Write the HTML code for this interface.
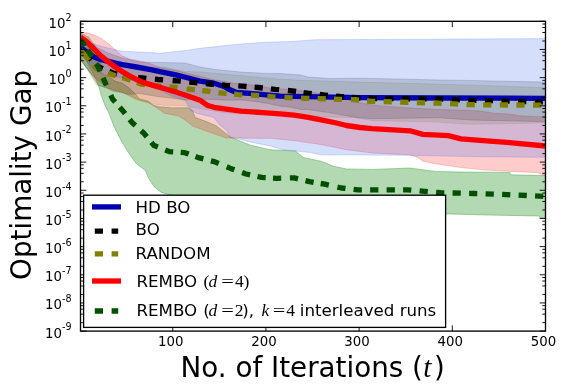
<!DOCTYPE html>
<html><head><meta charset="utf-8"><title>Optimality Gap</title>
<style>html,body{margin:0;padding:0;background:#fff}svg{display:block}</style></head><body>
<svg width="566" height="392" viewBox="0 0 566 392">
<rect width="566" height="392" fill="#fff"/>
<defs><clipPath id="ax"><rect x="80.5" y="21.3" width="465.0" height="309.8"/></clipPath></defs>
<g clip-path="url(#ax)">
<polygon points="80.5,33.0 88.9,37.4 95.4,46.0 99.7,59.0 101.2,73.4 108.3,76.3 115.3,81.2 122.4,83.3 129.5,88.3 136.5,95.3 139.4,98.9 147.8,101.0 153.5,105.2 158.5,106.8 171.2,107.8 188.2,107.8 192.4,110.3 195.2,117.4 206.5,121.6 216.4,125.9 230.2,137.0 250.0,145.0 270.0,149.7 295.5,151.0 303.2,157.4 321.0,161.2 333.8,166.3 346.5,168.9 372.0,169.4 410.0,168.0 435.5,171.4 461.0,172.0 509.8,172.4 510.6,174.8 545.5,175.5 545.5,218.5 540.0,218.2 539.2,216.0 487.2,215.0 445.9,213.9 300.0,208.0 200.0,200.0 168.3,194.4 161.2,192.4 154.1,186.7 148.5,178.3 145.3,170.5 136.6,164.0 130.1,155.3 121.4,141.2 113.8,126.0 108.4,112.0 105.4,106.6 101.2,95.3 98.4,85.4 95.5,78.4 91.3,74.1 87.0,68.5 80.5,60.0" fill="#008000" fill-opacity="0.3" stroke="#008000" stroke-opacity="0.3" stroke-width="1"/>
<polygon points="80.5,32.5 87.0,32.8 94.1,35.0 101.2,38.5 108.3,43.4 115.3,49.8 122.4,56.1 129.5,59.0 136.5,60.4 143.6,61.8 150.7,63.9 160.0,67.5 175.7,70.5 186.5,73.0 200.0,76.2 214.0,79.7 235.0,83.3 256.5,85.4 270.7,88.2 294.0,89.8 315.0,92.6 337.0,97.5 360.0,102.6 374.0,105.4 402.4,107.5 440.0,109.6 466.0,110.3 480.0,111.0 494.0,113.2 508.0,113.9 522.0,116.0 545.5,116.9 545.5,175.5 543.9,175.2 537.5,172.7 512.0,171.4 486.5,170.1 461.0,167.6 435.5,163.8 422.8,161.2 417.7,157.4 410.0,154.8 372.0,153.0 346.5,149.7 321.0,144.6 295.5,140.8 270.0,138.3 250.0,138.2 226.0,138.0 204.8,130.6 192.4,125.9 185.3,120.2 178.3,116.0 164.1,113.2 158.5,108.9 147.8,102.4 136.5,99.6 122.4,92.5 108.3,88.3 95.5,78.4 87.0,62.0 80.5,50.0" fill="#ff0000" fill-opacity="0.2" stroke="#ff0000" stroke-opacity="0.2" stroke-width="1"/>
<polygon points="80.5,42.0 94.0,50.0 108.0,58.0 122.0,63.0 140.0,67.0 164.0,67.2 185.0,71.4 200.0,72.0 280.0,79.2 308.0,80.6 336.5,81.3 360.0,82.1 440.0,84.2 466.0,84.9 545.5,87.7 545.5,122.9 537.0,123.0 471.0,124.3 466.0,124.0 440.0,122.3 437.0,122.1 371.0,120.4 360.0,118.4 355.0,117.5 338.0,117.2 336.5,117.2 321.7,116.5 308.0,116.1 305.2,116.1 288.5,115.6 280.0,115.1 271.4,115.0 255.0,113.6 238.2,113.8 222.6,112.4 206.4,109.4 200.0,108.6 190.8,107.0 185.0,105.8 173.5,105.3 164.0,105.6 157.0,104.5 140.9,101.0 140.0,100.3 126.6,93.6 122.0,91.9 111.8,89.6 108.0,87.9 96.3,85.1 94.0,81.1 86.4,68.3 80.5,58.0" fill="#808000" fill-opacity="0.15" stroke="#808000" stroke-opacity="0.15" stroke-width="1"/>
<polygon points="80.5,40.0 94.0,46.0 108.0,53.0 122.0,58.0 140.0,62.0 160.0,62.5 185.0,63.0 200.0,67.0 215.5,69.5 241.0,72.1 266.5,73.4 280.0,73.5 301.0,75.0 308.0,77.0 329.5,78.5 360.0,78.2 440.0,80.0 466.0,80.4 545.5,82.1 545.5,121.5 538.0,121.5 472.0,120.1 466.0,119.7 440.0,117.8 372.7,118.7 360.0,117.8 356.3,117.4 340.0,114.6 329.5,112.6 323.8,111.9 308.0,109.5 307.6,109.5 301.0,109.5 292.0,107.4 280.0,106.0 275.0,105.1 266.5,103.3 258.7,102.0 242.4,100.0 241.0,100.0 226.0,100.2 215.5,99.5 210.0,99.4 200.0,99.0 193.0,99.5 185.0,100.1 176.7,98.8 160.0,96.8 157.7,96.6 142.2,93.9 140.0,93.6 128.0,94.3 122.0,92.6 113.0,91.2 108.0,88.7 98.0,85.0 94.0,79.0 87.5,68.9 80.5,60.0" fill="#000000" fill-opacity="0.15" stroke="#000000" stroke-opacity="0.15" stroke-width="1"/>
<polygon points="80.5,42.0 94.1,44.1 101.2,46.3 115.3,49.8 122.4,51.2 136.5,51.9 150.7,52.6 160.0,53.3 175.7,51.5 186.5,50.4 198.0,48.6 215.5,46.6 241.0,44.0 266.5,42.2 292.0,41.5 315.0,39.7 440.0,39.2 545.5,38.6 545.5,157.3 480.0,156.8 410.0,155.3 321.0,154.8 308.3,152.3 295.5,151.0 282.8,149.7 270.0,145.9 250.0,142.0 230.2,137.0 226.3,130.0 219.3,124.5 213.6,117.4 196.6,113.2 191.0,110.3 185.3,100.4 171.2,96.0 160.0,90.1 150.7,86.6 136.5,82.1 122.4,78.0 115.3,76.6 101.2,73.1 94.1,69.7 88.5,63.6 80.5,53.0" fill="#2d5ff0" fill-opacity="0.2" stroke="#2d5ff0" stroke-opacity="0.2" stroke-width="1"/>
<polyline points="80.5,47.5 88.5,53.3 94.1,56.9 101.2,59.7 115.3,63.2 122.4,64.6 136.5,67.0 150.7,69.6 160.0,71.7 175.7,74.8 186.5,77.5 200.0,81.1 214.0,83.2 224.0,86.5 230.0,89.8 236.0,92.3 249.5,93.3 263.6,94.6 280.0,96.1 360.0,97.7 440.0,98.0 545.5,98.3" fill="none" stroke="#0000b2" stroke-width="5.33" stroke-linejoin="round"/>
<path d="M80.5 50.0L85.2 54.0M85.4 54.2L87.5 56.0L91.4 59.9M95.8 64.3L98.0 66.5L102.8 68.6M109.2 71.3L113.0 73.0L117.0 74.0M123.0 75.5L128.0 76.8L131.1 77.1M138.1 77.7L142.2 78.0L146.3 78.4M154.9 79.2L157.7 79.5L163.1 79.9M172.6 80.5L176.7 80.8L180.8 81.2M189.3 82.0L193.0 82.3L197.5 82.8M205.9 83.6L210.0 84.0L214.1 84.4M221.9 85.0L226.0 85.4L230.1 85.6M238.3 85.9L242.4 86.1L246.5 86.5M254.6 87.1L258.7 87.5L262.8 88.0M270.9 88.8L275.0 89.3L279.1 89.7M287.9 90.5L292.0 90.9L296.1 91.5M303.5 92.6L307.6 93.2L311.7 93.7M319.7 94.5L323.8 95.0L327.9 95.4M335.9 96.1L340.0 96.5L344.1 96.8M352.2 97.5L356.3 97.8L360.4 98.0M368.7 98.4L372.7 98.6L376.9 98.6M385.3 98.7L393.5 98.7M401.9 98.7L410.1 98.8M418.5 98.8L426.7 98.8M435.1 98.9L440.0 98.9L443.3 99.0M451.7 99.4L459.9 99.8M468.3 100.1L472.0 100.3L476.5 100.4M484.9 100.6L493.1 100.7M501.5 100.9L509.7 101.1M518.1 101.3L526.3 101.5M534.7 101.6L538.0 101.7L542.9 101.8" fill="none" stroke="#000" stroke-width="5.33" stroke-linejoin="round"/>
<path d="M80.5 50.0L84.2 54.3M83.7 53.7L86.4 56.9L89.1 60.0M93.6 65.1L96.3 68.2L100.1 69.8M108.0 72.9L111.8 74.5L115.8 75.7M122.6 77.6L126.6 78.8L130.5 80.2M137.0 82.6L140.9 84.0L145.0 84.5M152.9 85.3L157.0 85.8L161.1 86.2M169.4 86.8L173.5 87.2L177.6 87.7M186.7 88.8L190.8 89.3L194.9 89.7M202.3 90.6L206.4 91.0L210.5 91.6M218.5 92.6L222.6 93.2L226.7 93.6M234.1 94.2L238.2 94.6L242.3 94.8M250.9 95.1L255.0 95.3L259.1 95.7M267.3 96.3L271.4 96.7L275.5 96.9M284.4 97.4L288.5 97.6L292.6 97.8M301.1 98.1L305.2 98.3L309.3 98.4M317.6 98.6L321.7 98.7L325.8 98.9M333.9 99.1L338.0 99.3L342.1 99.4M350.9 99.6L355.0 99.7L359.1 100.1M367.0 101.0L371.0 101.4L375.2 101.5M383.6 101.7L391.8 101.9M400.2 102.2L408.4 102.4M416.8 102.6L425.0 102.8M433.4 103.0L437.0 103.1L441.6 103.3M450.0 103.7L458.2 104.1M466.6 104.5L471.0 104.7L474.8 104.7M483.2 104.8L491.4 104.9M499.8 104.9L508.0 105.0M516.4 105.0L524.6 105.1M533.0 105.2L537.0 105.2L541.2 105.2" fill="none" stroke="#808000" stroke-width="5.33" stroke-linejoin="round"/>
<polyline points="80.5,37.2 87.0,42.0 94.1,49.1 101.2,56.1 108.3,61.8 115.3,67.0 122.4,71.7 129.5,75.9 136.5,79.5 143.6,82.6 154.0,85.6 164.8,88.8 175.7,92.0 186.5,95.5 200.0,100.2 207.0,105.2 214.0,107.3 228.0,109.4 241.0,111.1 266.5,112.9 280.0,113.8 294.0,115.2 308.3,117.3 322.4,120.2 336.5,123.0 346.5,125.5 360.0,127.5 372.0,128.6 410.0,130.8 422.8,134.4 448.3,135.7 461.0,138.8 486.5,140.8 512.0,142.8 545.5,146.0" fill="none" stroke="#ff0000" stroke-width="5.33" stroke-linejoin="round"/>
<path d="M80.5 40.0L82.8 42.7L85.1 46.1M87.6 49.9L89.9 53.3L92.0 56.9M96.3 63.9L98.4 67.5L100.1 71.3M103.0 77.8L104.7 81.6L106.4 85.4M110.8 95.2L112.5 99.0L115.2 102.1M119.8 107.3L122.5 110.4L125.1 113.7M129.7 119.5L132.3 122.8L135.4 125.6M141.1 130.8L144.2 133.6L146.8 136.8M151.4 142.4L154.0 145.6L157.9 147.1M165.2 150.1L169.1 151.6L173.2 151.9M180.7 152.4L184.8 152.7L188.7 154.1M195.5 156.5L199.4 157.9L203.4 158.9M210.9 160.9L214.9 161.9L218.7 163.5M226.7 166.8L230.5 168.4L234.4 169.8M242.1 172.6L246.0 174.0L250.1 174.9M257.5 176.5L261.6 177.4L265.7 177.6M273.0 178.1L277.1 178.3L281.2 178.2M289.9 177.9L294.2 177.8L298.0 178.8M305.5 180.6L309.5 181.6L313.6 182.3M320.7 183.5L324.8 184.2L328.8 185.1M337.4 187.1L341.4 188.0L345.5 188.4M353.6 189.3L358.0 189.8L361.8 189.8M370.1 189.8L378.4 189.8M386.6 189.8L394.9 189.8M403.1 189.8L407.7 189.8L411.3 190.1M419.6 190.8L427.8 191.6M436.1 192.3L440.6 192.7L444.3 192.8M452.6 193.0L460.8 193.2M469.1 193.4L474.0 193.5L477.3 193.6M485.6 193.9L493.8 194.2M502.1 194.4L506.7 194.6L510.3 194.8M518.6 195.1L526.8 195.5M535.1 195.9L543.3 196.3" fill="none" stroke="#005000" stroke-width="5.33" stroke-linejoin="round"/>
</g>
<path d="M80.5 21.30h5.8M545.5 21.30h-5.8M80.5 40.99h3.2M545.5 40.99h-3.2M80.5 32.51h3.2M545.5 32.51h-3.2M80.5 27.55h3.2M545.5 27.55h-3.2M80.5 24.03h3.2M545.5 24.03h-3.2M80.5 49.46h5.8M545.5 49.46h-5.8M80.5 69.15h3.2M545.5 69.15h-3.2M80.5 60.67h3.2M545.5 60.67h-3.2M80.5 55.71h3.2M545.5 55.71h-3.2M80.5 52.19h3.2M545.5 52.19h-3.2M80.5 77.63h5.8M545.5 77.63h-5.8M80.5 97.31h3.2M545.5 97.31h-3.2M80.5 88.83h3.2M545.5 88.83h-3.2M80.5 83.88h3.2M545.5 83.88h-3.2M80.5 80.36h3.2M545.5 80.36h-3.2M80.5 105.79h5.8M545.5 105.79h-5.8M80.5 125.48h3.2M545.5 125.48h-3.2M80.5 117.00h3.2M545.5 117.00h-3.2M80.5 112.04h3.2M545.5 112.04h-3.2M80.5 108.52h3.2M545.5 108.52h-3.2M80.5 133.95h5.8M545.5 133.95h-5.8M80.5 153.64h3.2M545.5 153.64h-3.2M80.5 145.16h3.2M545.5 145.16h-3.2M80.5 140.20h3.2M545.5 140.20h-3.2M80.5 136.68h3.2M545.5 136.68h-3.2M80.5 162.12h5.8M545.5 162.12h-5.8M80.5 181.80h3.2M545.5 181.80h-3.2M80.5 173.33h3.2M545.5 173.33h-3.2M80.5 168.37h3.2M545.5 168.37h-3.2M80.5 164.85h3.2M545.5 164.85h-3.2M80.5 190.28h5.8M545.5 190.28h-5.8M80.5 209.97h3.2M545.5 209.97h-3.2M80.5 201.49h3.2M545.5 201.49h-3.2M80.5 196.53h3.2M545.5 196.53h-3.2M80.5 193.01h3.2M545.5 193.01h-3.2M80.5 218.45h5.8M545.5 218.45h-5.8M80.5 238.13h3.2M545.5 238.13h-3.2M80.5 229.65h3.2M545.5 229.65h-3.2M80.5 224.69h3.2M545.5 224.69h-3.2M80.5 221.17h3.2M545.5 221.17h-3.2M80.5 246.61h5.8M545.5 246.61h-5.8M80.5 266.29h3.2M545.5 266.29h-3.2M80.5 257.82h3.2M545.5 257.82h-3.2M80.5 252.86h3.2M545.5 252.86h-3.2M80.5 249.34h3.2M545.5 249.34h-3.2M80.5 274.77h5.8M545.5 274.77h-5.8M80.5 294.46h3.2M545.5 294.46h-3.2M80.5 285.98h3.2M545.5 285.98h-3.2M80.5 281.02h3.2M545.5 281.02h-3.2M80.5 277.50h3.2M545.5 277.50h-3.2M80.5 302.94h5.8M545.5 302.94h-5.8M80.5 322.62h3.2M545.5 322.62h-3.2M80.5 314.14h3.2M545.5 314.14h-3.2M80.5 309.18h3.2M545.5 309.18h-3.2M80.5 305.67h3.2M545.5 305.67h-3.2M80.5 331.10h5.8M545.5 331.10h-5.8M172.75 331.1v-5.8M172.75 21.3v5.8M265.94 331.1v-5.8M265.94 21.3v5.8M359.13 331.1v-5.8M359.13 21.3v5.8M452.31 331.1v-5.8M452.31 21.3v5.8M545.50 331.1v-5.8M545.50 21.3v5.8" stroke="#000" stroke-width="0.9" fill="none"/>
<rect x="80.5" y="21.3" width="465.0" height="309.8" fill="none" stroke="#000" stroke-width="1.33"/>
<g font-family="DejaVu Sans, Liberation Sans, sans-serif" font-size="13.33" fill="#000">
<text x="71.6" y="27.8" text-anchor="end">10<tspan font-size="9.6" dy="-7.2">2</tspan></text>
<text x="71.6" y="56.0" text-anchor="end">10<tspan font-size="9.6" dy="-7.2">1</tspan></text>
<text x="71.6" y="84.1" text-anchor="end">10<tspan font-size="9.6" dy="-7.2">0</tspan></text>
<text x="71.6" y="112.3" text-anchor="end">10<tspan font-size="9.6" dy="-7.2">-1</tspan></text>
<text x="71.6" y="140.5" text-anchor="end">10<tspan font-size="9.6" dy="-7.2">-2</tspan></text>
<text x="71.6" y="168.6" text-anchor="end">10<tspan font-size="9.6" dy="-7.2">-3</tspan></text>
<text x="71.6" y="196.8" text-anchor="end">10<tspan font-size="9.6" dy="-7.2">-4</tspan></text>
<text x="71.6" y="224.9" text-anchor="end">10<tspan font-size="9.6" dy="-7.2">-5</tspan></text>
<text x="71.6" y="253.1" text-anchor="end">10<tspan font-size="9.6" dy="-7.2">-6</tspan></text>
<text x="71.6" y="281.3" text-anchor="end">10<tspan font-size="9.6" dy="-7.2">-7</tspan></text>
<text x="71.6" y="309.4" text-anchor="end">10<tspan font-size="9.6" dy="-7.2">-8</tspan></text>
<text x="71.6" y="337.6" text-anchor="end">10<tspan font-size="9.6" dy="-7.2">-9</tspan></text>
<text x="170.8" y="345.6" text-anchor="middle">100</text>
<text x="263.9" y="345.6" text-anchor="middle">200</text>
<text x="357.1" y="345.6" text-anchor="middle">300</text>
<text x="450.3" y="345.6" text-anchor="middle">400</text>
<text x="543.5" y="345.6" text-anchor="middle">500</text>
</g>
<text x="180.6" y="376.8" font-size="27.76" font-family="DejaVu Sans, Liberation Sans, sans-serif">No. of Iterations (<tspan x="423.3" font-family="Liberation Serif, DejaVu Serif, serif" font-style="italic" font-size="29">t</tspan><tspan x="434.1">)</tspan></text>
<text transform="translate(31,280) rotate(-90)" font-size="27.8" font-family="DejaVu Sans, Liberation Sans, sans-serif">Optimality Gap</text>
<rect x="83.6" y="195.2" width="362" height="132.2" fill="#fff" stroke="#000" stroke-width="1.33"/>
<path d="M92 206.9H121" stroke="#0000b2" stroke-width="5.33" fill="none"/>
<path d="M94.8 231.2h8.2M111.6 231.2h6.6" stroke="#000" stroke-width="5.33" fill="none"/>
<path d="M94.8 253.9h8.2M111.6 253.9h6.6" stroke="#808000" stroke-width="5.33" fill="none"/>
<path d="M92 281.0H121" stroke="#ff0000" stroke-width="5.33" fill="none"/>
<path d="M94.8 311.0h8.2M111.6 311.0h6.6" stroke="#005000" stroke-width="5.33" fill="none"/>
<g font-family="DejaVu Sans, Liberation Sans, sans-serif" font-size="16.67" fill="#000">
<text x="135.5" y="212.8">HD BO</text>
<text x="135.5" y="235.3">BO</text>
<text x="135.5" y="258.6">RANDOM</text>
<text x="136.5" y="286.8">REMBO <tspan x="203.6" font-family="Liberation Serif, DejaVu Serif, serif" font-size="17.5">(</tspan><tspan x="208.6" font-family="Liberation Serif, DejaVu Serif, serif" font-style="italic" font-size="17.5">d</tspan><tspan x="221.3" font-family="Liberation Serif, DejaVu Serif, serif" font-size="17.5" textLength="12.6" lengthAdjust="spacingAndGlyphs">=</tspan><tspan x="234.9" font-family="Liberation Serif, DejaVu Serif, serif" font-size="17.5">4</tspan><tspan x="243.4" font-family="Liberation Serif, DejaVu Serif, serif" font-size="17.5">)</tspan></text>
<text x="136.5" y="315.5">REMBO <tspan x="203.3">(</tspan><tspan x="208.6" font-family="Liberation Serif, DejaVu Serif, serif" font-style="italic" font-size="17.5">d</tspan><tspan x="221.3" font-family="Liberation Serif, DejaVu Serif, serif" font-size="17.5" textLength="12.6" lengthAdjust="spacingAndGlyphs">=</tspan><tspan x="234.7" font-family="Liberation Serif, DejaVu Serif, serif" font-size="17.5">2</tspan><tspan x="242.2">),</tspan> <tspan x="261.5" font-family="Liberation Serif, DejaVu Serif, serif" font-style="italic" font-size="17.5">k</tspan><tspan x="272.8" font-family="Liberation Serif, DejaVu Serif, serif" font-size="17.5" textLength="12.6" lengthAdjust="spacingAndGlyphs">=</tspan><tspan x="286.2" font-family="Liberation Serif, DejaVu Serif, serif" font-size="17.5">4</tspan><tspan x="294.5"> interleaved runs</tspan></text>
</g>
</svg></body></html>
